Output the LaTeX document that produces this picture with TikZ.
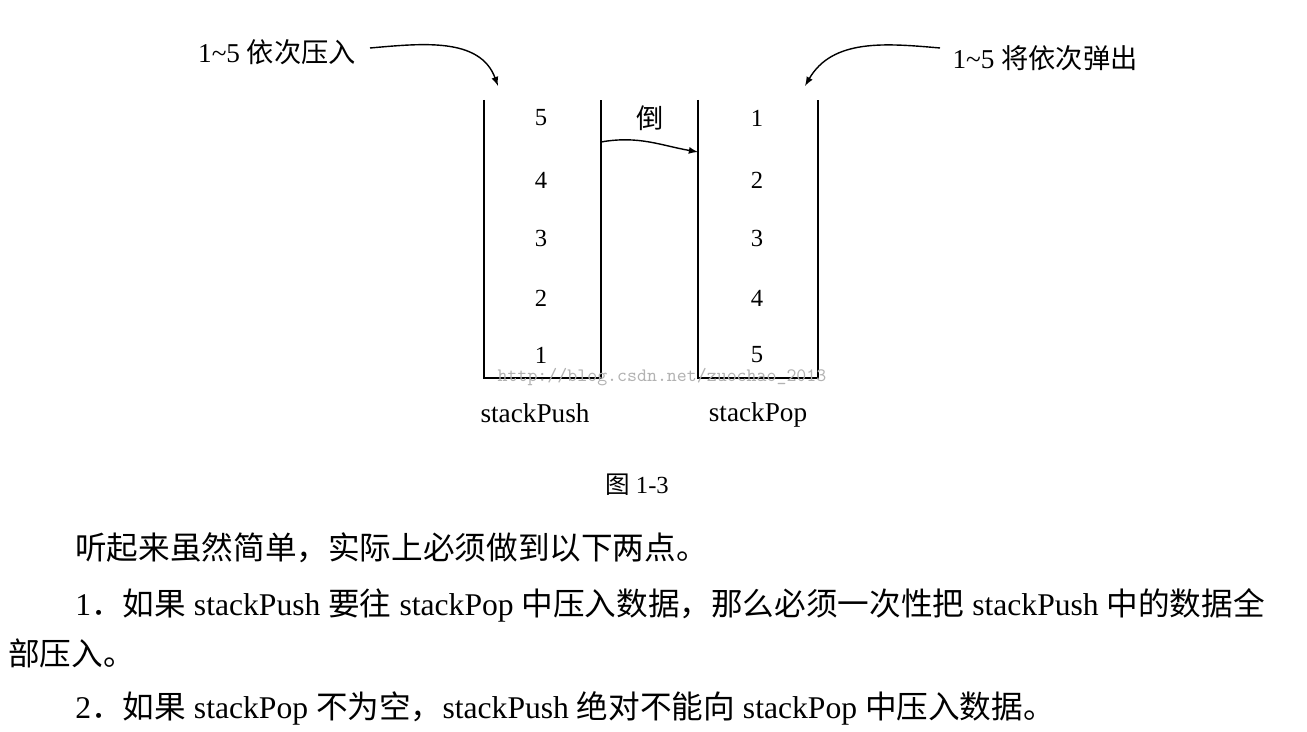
\documentclass[tikz,border=0pt]{standalone}
\usepackage{fontspec}
\setmainfont{Liberation Serif}
\newfontfamily\cjk{Noto Sans CJK SC}
\newcommand{\zh}[1]{{\cjk #1}}
\begin{document}
\begin{tikzpicture}[x=0.02cm,y=-0.02cm,
  num/.style={font=\fontsize{14}{16}\selectfont,inner sep=1pt},
  lab/.style={font=\fontsize{15.5}{18}\selectfont},
  txt/.style={anchor=west,inner sep=0,font=\fontsize{18}{21}\selectfont},
  arr/.style={-latex,line width=0.8pt}]
\useasboundingbox (0,0) rectangle (1307,732);
% stacks
\draw[line width=0.8pt] (484,100) -- (484,378) -- (601,378) -- (601,100);
\draw[line width=0.8pt] (698,100) -- (698,378) -- (818,378) -- (818,100);
\foreach \n/\y in {5/118,4/180,3/238,2/298,1/355} \node[num] (l\n) at (541,\y) {\n};
\foreach \n/\y in {1/118,2/180,3/238,4/298,5/355} \node[num] (r\n) at (757,\y) {\n};
\node[lab] (dao) at (650,118) {\zh{倒}};
\coordinate (a1) at (601,142); \coordinate (a2) at (698,152);
\draw[arr] (a1) to[out=10,in=170] (a2);
\node[lab] (push) at (277,52) {1\textasciitilde5 \zh{依次压入}};
\coordinate (p0) at (370,48); \coordinate (p1) at (498,86);
\draw[arr] (p0) to[out=5,in=110] (p1);
\node[lab] (pop) at (1045,58) {1\textasciitilde5 \zh{将依次弹出}};
\coordinate (q0) at (940,48); \coordinate (q1) at (805,86);
\draw[arr] (q0) to[out=175,in=60] (q1);
\node[text=gray!60,font=\ttfamily\fontsize{10.8}{12}\selectfont,inner sep=0] (wm) at (662,377) {http://blog.csdn.net/zuochao\_2013};
\node[lab] (sp) at (535,413) {stackPush};
\node[lab] (so) at (758,415) {stackPop};
\node[font=\fontsize{14}{16}\selectfont] (fig) at (637,485) {\zh{图} 1-3};
\node[txt] (t1) at (75,548) {\zh{听起来虽然简单，实际上必须做到以下两点。}};
\node[txt] (t2) at (75,605) {1\zh{．如果} stackPush \zh{要往} stackPop \zh{中压入数据，那么必须一次性把} stackPush \zh{中的数据全}};
\node[txt] (t3) at (8,653) {\zh{部压入。}};
\node[txt] (t4) at (75,708) {2\zh{．如果} stackPop \zh{不为空，}stackPush \zh{绝对不能向} stackPop \zh{中压入数据。}};
\end{tikzpicture}
\end{document}
